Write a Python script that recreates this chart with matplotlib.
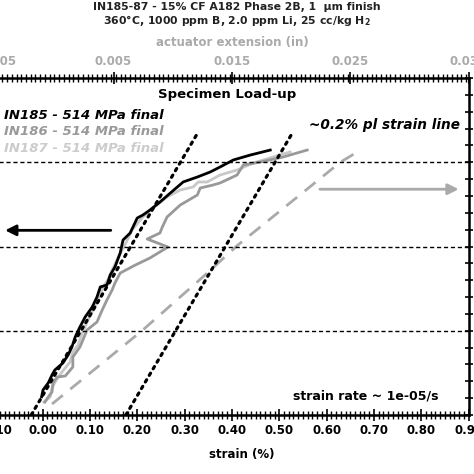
import matplotlib.pyplot as plt
import numpy as np
from matplotlib.ticker import MultipleLocator, FixedLocator

# strain (%) vs load (arbitrary units, axis labels not shown)
in185_strain = [-0.002, 0.001, 0.012, 0.020, 0.026, 0.043, 0.054, 0.062, 0.069, 0.079, 0.090,
                0.105, 0.115, 0.122, 0.136, 0.143, 0.153, 0.164, 0.170, 0.185, 0.191, 0.200,
                0.212, 0.227, 0.248, 0.270, 0.297, 0.327, 0.354, 0.375, 0.403, 0.439, 0.481]
in185_load = [21.7, 29.7, 38.0, 47.5, 53.4, 61.7, 71.2, 80.7, 92.6, 104.5, 116.3,
              128.2, 140.1, 152.0, 154.3, 166.2, 175.7, 192.3, 207.7, 216.0, 223.1, 233.8,
              237.4, 243.3, 252.8, 263.5, 276.6, 282.5, 288.4, 294.4, 302.7, 308.6, 314.5]

in186_strain = [0.005, 0.012, 0.020, 0.022, 0.031, 0.048, 0.064, 0.064, 0.079, 0.094, 0.115,
                0.126, 0.136, 0.147, 0.153, 0.164, 0.196, 0.227, 0.265, 0.221, 0.248, 0.253,
                0.263, 0.291, 0.327, 0.333, 0.360, 0.375, 0.411, 0.424, 0.460, 0.508, 0.559]
in186_load = [15.4, 21.4, 27.3, 38.0, 45.1, 46.3, 57.0, 68.8, 80.7, 100.9, 110.4,
              124.6, 136.5, 148.4, 156.7, 168.5, 178.0, 186.4, 199.4, 208.9, 216.0, 223.1,
              235.0, 249.3, 261.1, 269.4, 273.0, 275.4, 284.9, 296.7, 300.3, 306.2, 314.5]

in187_strain = [0.003, 0.016, 0.020, 0.029, 0.041, 0.058, 0.064, 0.075, 0.084, 0.096, 0.109,
                0.119, 0.128, 0.138, 0.147, 0.160, 0.174, 0.189, 0.210, 0.227, 0.242, 0.263,
                0.291, 0.318, 0.329, 0.348, 0.375, 0.411, 0.445, 0.487, 0.523]
in187_load = [15.4, 21.4, 32.0, 41.5, 51.0, 62.9, 74.8, 83.1, 97.3, 112.8, 127.0,
              140.1, 152.0, 160.2, 172.1, 187.5, 201.8, 219.6, 233.8, 243.3, 249.3, 258.8,
              267.1, 270.6, 276.6, 276.6, 284.9, 290.8, 299.1, 306.2, 312.2]

# gray dashed curve
dash_strain = [0.020, 0.210, 0.339, 0.411, 0.629, 0.673]
dash_load = [13, 100, 164, 201, 300, 315]

# elastic line and 0.2% offset line
elastic_strain = [-0.024, 0.329]
elastic_load = [0, 336]
offset = 0.2

hlines = [100, 200, 300]

fig = plt.figure(figsize=(4.74, 4.74), dpi=100)
ax = fig.add_axes([-0.0101, 0.1245, 0.9987, 0.7109])

ax.plot(in187_strain, in187_load, color='#c8c8c8', lw=2)
ax.plot(in186_strain, in186_load, color='#999999', lw=2)
ax.plot(in185_strain, in185_load, color='black', lw=2)
ax.plot(dash_strain, dash_load, color='#aaaaaa', lw=2, ls=(0, (5, 3.5)))
ax.plot(elastic_strain, elastic_load, color='black', lw=2.3, ls=(0, (0.8, 1.6)),
        dash_capstyle='round')
ax.plot([s + offset for s in elastic_strain], elastic_load, color='black', lw=2.3,
        ls=(0, (0.8, 1.6)), dash_capstyle='round')
for h in hlines:
    ax.axhline(h, color='black', lw=1, ls=(0, (3, 2)))

ax.set_xlim(-0.1, 0.9)
ax.set_ylim(0, 400)
ax.xaxis.set_major_locator(MultipleLocator(0.1))
ax.xaxis.set_minor_locator(MultipleLocator(0.01))
ax.xaxis.set_major_formatter(lambda v, p: f'{v:.2f}')
ax.yaxis.set_major_locator(MultipleLocator(100))
ax.yaxis.set_minor_locator(MultipleLocator(20))
ax.tick_params(axis='x', which='major', direction='inout', length=9, width=1.2,
               labelsize=8.5, pad=2)
ax.tick_params(axis='x', which='minor', direction='inout', length=6, width=1)
ax.tick_params(axis='y', which='both', direction='inout', left=True, right=True,
               labelleft=False, labelright=False, length=6, width=1.2)
for lab in ax.get_xticklabels():
    lab.set_fontweight('bold')
for s in ax.spines.values():
    s.set_linewidth(1.8)
ax.set_xlabel('strain (%)', fontsize=8.5, fontweight='bold')
ax.xaxis.set_label_coords(0.52, -0.098)

top = ax.twiny()
top.set_xlim(-0.005, 0.035)
top.xaxis.set_major_locator(FixedLocator([-0.005, 0.005, 0.015, 0.025, 0.035]))
top.xaxis.set_minor_locator(MultipleLocator(0.0004))
top.xaxis.set_major_formatter(lambda v, p: f'{v:.3f}')
top.tick_params(axis='x', which='major', direction='inout', length=9, width=1.2,
                labelsize=8.5, labelcolor='#aaaaaa', pad=3)
top.tick_params(axis='x', which='minor', direction='inout', length=6, width=1)
for lab in top.get_xticklabels():
    lab.set_fontweight('bold')
top.set_xlabel('actuator extension (in)', fontsize=8.5, fontweight='bold',
               color='#aaaaaa', labelpad=6)

fig.text(0.5, 0.986, 'IN185-87 - 15% CF A182 Phase 2B, 1  μm finish',
         ha='center', va='center', fontsize=7.8, fontweight='bold', color='#222222')
fig.text(0.5, 0.957, '360°C, 1000 ppm B, 2.0 ppm Li, 25 cc/kg H$_\\mathbf{2}$',
         ha='center', va='center', fontsize=7.8, fontweight='bold', color='#222222')

ax.text(0.49, 0.95, 'Specimen Load-up', transform=ax.transAxes, ha='center',
        va='center', fontsize=9.5, fontweight='bold')
ax.text(0.018, 0.888, 'IN185 - 514 MPa final', transform=ax.transAxes, ha='left',
        va='center', fontsize=9.5, fontweight='bold', style='italic', color='black')
ax.text(0.018, 0.840, 'IN186 - 514 MPa final', transform=ax.transAxes, ha='left',
        va='center', fontsize=9.5, fontweight='bold', style='italic', color='#999999')
ax.text(0.018, 0.792, 'IN187 - 514 MPa final', transform=ax.transAxes, ha='left',
        va='center', fontsize=9.5, fontweight='bold', style='italic', color='#cccccc')
ax.text(0.982, 0.860, '~0.2% pl strain line', transform=ax.transAxes, ha='right',
        va='center', fontsize=9.8, fontweight='bold', style='italic')
ax.text(0.937, 0.055, 'strain rate ~ 1e-05/s', transform=ax.transAxes, ha='right',
        va='center', fontsize=9, fontweight='bold')

ax.annotate('', xy=(0.015, 0.548), xytext=(0.25, 0.548), xycoords='axes fraction',
            arrowprops=dict(arrowstyle='-|>', color='black', lw=2,
                            mutation_scale=16))
ax.annotate('', xy=(0.985, 0.67), xytext=(0.68, 0.67), xycoords='axes fraction',
            arrowprops=dict(arrowstyle='-|>', color='#aaaaaa', lw=2,
                            mutation_scale=16))

fig.savefig('out.png', dpi=100)
